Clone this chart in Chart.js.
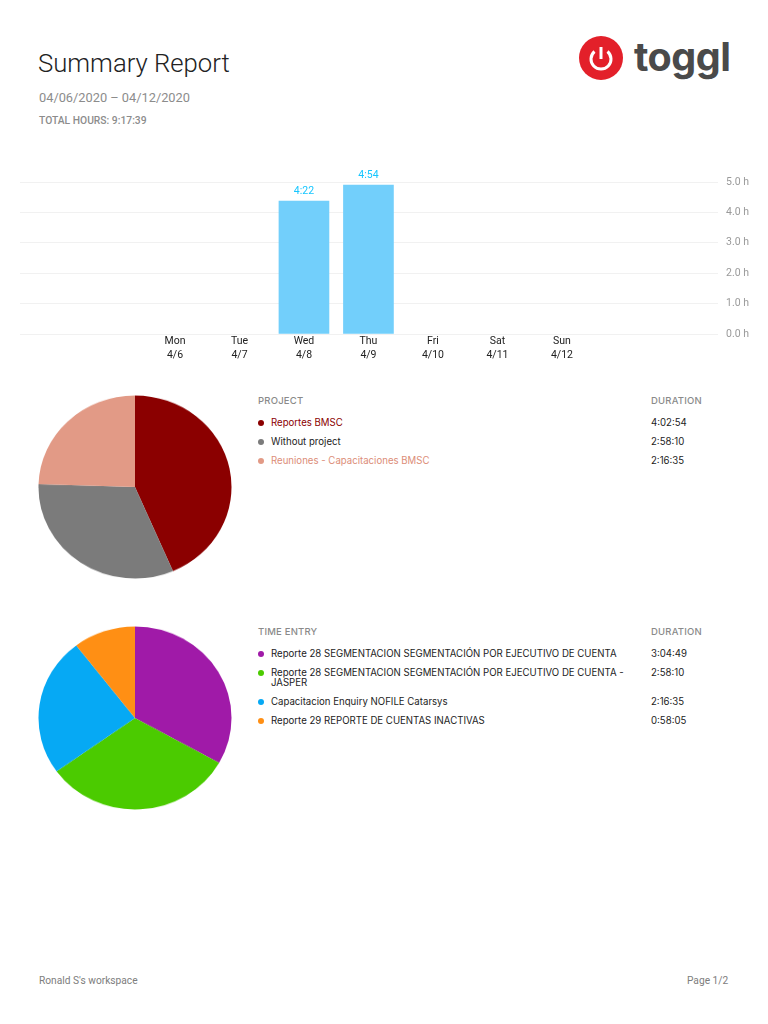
<!DOCTYPE html>
<html>
<head>
<meta charset="utf-8">
<title>Summary Report</title>
<script src="https://cdn.jsdelivr.net/npm/chart.js@4"></script>
<style>
    html, body { margin: 0; padding: 0; background: #fff; }
    body { position: relative; width: 768px; height: 1024px; overflow: hidden; font-family: Roboto, sans-serif; }
    .abs { position: absolute; white-space: nowrap; }
    canvas { position: absolute; }
    .pie { transform: scaleY(.948); }
    .head { font: 500 9.5px Inter, sans-serif; color: #8a8a8a; letter-spacing: .2px; }
    .row { font: 400 9.63px Inter, sans-serif; color: #1c1c1c; line-height: 10px; }
    .dot { position: absolute; width: 6px; height: 6px; border-radius: 50%; }
</style>
</head>
<body>
    <div class="abs" style="left:38px;top:48px;font-size:25.7px;font-weight:300;color:#222">Summary Report</div>
    <div class="abs" style="left:39px;top:90px;font-size:12.8px;color:#8c8c8c">04/06/2020 – 04/12/2020</div>
    <div class="abs" style="left:39px;top:114px;font-size:10.3px;font-weight:500;color:#8c8c8c">TOTAL HOURS: 9:17:39</div>

    <svg class="abs" style="left:579px;top:36px" width="44" height="44" viewBox="0 0 44 44">
        <circle cx="22" cy="22" r="22" fill="#e3202a"/>
        <path d="M15.5 15.5 A10 10 0 1 0 28.5 15.5" fill="none" stroke="#fff" stroke-width="3"/>
        <line x1="22" y1="11" x2="22" y2="23" stroke="#fff" stroke-width="3"/>
    </svg>
    <div class="abs" style="left:634px;top:33px;font:700 39.5px Inter,sans-serif;color:#4a4a4a;letter-spacing:-.5px">toggl</div>

    <canvas id="barChart" width="768" height="230" style="left:0;top:140px"></canvas>
    <canvas id="projectPie" class="pie" width="200" height="200" style="left:35px;top:386.5px"></canvas>
    <canvas id="entryPie" class="pie" width="200" height="200" style="left:35px;top:617.5px"></canvas>

    <div id="projectTable"></div>
    <div id="entryTable"></div>

    <div class="abs" style="left:39px;top:975px;font-size:10.2px;color:#7d7d7d">Ronald S's workspace</div>
    <div class="abs" style="left:687px;top:975px;font-size:10.2px;color:#7d7d7d">Page 1/2</div>

<script>
// Dados do gráfico de barras
const dayNames = ['Mon', 'Tue', 'Wed', 'Thu', 'Fri', 'Sat', 'Sun'];
const dayDates = ['4/6', '4/7', '4/8', '4/9', '4/10', '4/11', '4/12'];
const dayHours = [0, 0, 4.37, 4.9, 0, 0, 0];
const dayLabels = ['', '', '4:22', '4:54', '', '', ''];

// Dados das pizzas (segundos)
const projectNames = ['Reportes BMSC', 'Without project', 'Reuniones - Capacitaciones BMSC'];
const projectSeconds = [14574, 10690, 8195];
const projectDurations = ['4:02:54', '2:58:10', '2:16:35'];
const projectColors = ['#8b0000', '#7b7b7b', '#e29a86'];
const projectTextColors = ['#8b0000', '#1c1c1c', '#dc8d78'];

const entryNames = [
    'Reporte 28 SEGMENTACION SEGMENTACIÓN POR EJECUTIVO DE CUENTA',
    'Reporte 28 SEGMENTACION SEGMENTACIÓN POR EJECUTIVO DE CUENTA -<br>JASPER',
    'Capacitacion Enquiry NOFILE Catarsys',
    'Reporte 29 REPORTE DE CUENTAS INACTIVAS'
];
const entrySeconds = [11089, 10690, 8195, 3485];
const entryDurations = ['3:04:49', '2:58:10', '2:16:35', '0:58:05'];
const entryColors = ['#a01aa8', '#4bcb00', '#06a9f4', '#ff8f14'];

// Rótulos acima das barras
const barValueLabels = {
    id: 'barValueLabels',
    afterDatasetsDraw(chart) {
        const ctx = chart.ctx;
        ctx.save();
        ctx.font = '10.5px Roboto';
        ctx.fillStyle = '#17c6ff';
        ctx.textAlign = 'center';
        chart.getDatasetMeta(0).data.forEach((bar, i) => {
            if (dayLabels[i]) ctx.fillText(dayLabels[i], bar.x, bar.y - 7);
        });
        ctx.restore();
    }
};

new Chart(document.getElementById('barChart'), {
    type: 'bar',
    data: {
        datasets: [{
            data: dayHours.map((h, i) => ({ x: i, y: h })),
            // dias sem horas não desenham nada
            backgroundColor: c => c.raw.y > 0 ? '#72cffb' : 'transparent',
            barThickness: 50
        }]
    },
    plugins: [barValueLabels],
    options: {
        responsive: false,
        animation: false,
        layout: { padding: { left: 20, top: 42 } },
        plugins: { legend: { display: false }, tooltip: { enabled: false } },
        scales: {
            x: {
                type: 'linear',
                offset: false,
                min: -2.403,
                max: 8.42,
                grid: { display: false, drawTicks: false },
                border: { display: false },
                afterBuildTicks(scale) {
                    scale.ticks = dayNames.map((d, i) => ({ value: i }));
                },
                afterFit(scale) { scale.height = 36; },
                ticks: {
                    autoSkip: false,
                    maxRotation: 0,
                    padding: 0,
                    color: '#222',
                    font: { family: 'Roboto', size: 10.5, lineHeight: 1.33 },
                    callback: value => [dayNames[value], dayDates[value]]
                }
            },
            y: {
                position: 'right',
                min: 0,
                max: 5,
                grid: { color: '#f1f1f1', drawTicks: false },
                border: { display: false },
                afterFit(scale) { scale.width = 50; },
                ticks: {
                    stepSize: 1,
                    padding: 8,
                    color: '#9a9a9a',
                    font: { family: 'Roboto', size: 10.5 },
                    callback: value => value.toFixed(1) + ' h'
                }
            }
        }
    }
});

function desenharPizza(id, values, colors) {
    new Chart(document.getElementById(id), {
        type: 'pie',
        data: { datasets: [{ data: values, backgroundColor: colors, borderWidth: 0 }] },
        options: {
            responsive: false,
            animation: false,
            radius: 96.5,
            plugins: { legend: { display: false }, tooltip: { enabled: false } }
        }
    });
}
desenharPizza('projectPie', projectSeconds, projectColors);
desenharPizza('entryPie', entrySeconds, entryColors);

// Tabelas ao lado das pizzas
function renderizarTabela(id, title, top, rowTops, names, durations, colors, textColors) {
    let html = `<div class="abs head" style="left:258px;top:${top}px">${title}</div>`;
    html += `<div class="abs head" style="left:651px;top:${top}px">DURATION</div>`;
    names.forEach((name, i) => {
        const y = rowTops[i];
        const cor = textColors ? textColors[i] : '#1c1c1c';
        html += `<div class="dot" style="left:258px;top:${y + 2}px;background:${colors[i]}"></div>`;
        html += `<div class="abs row" style="left:271px;top:${y}px;color:${cor}">${name}</div>`;
        html += `<div class="abs row" style="left:651px;top:${y}px">${durations[i]}</div>`;
    });
    document.getElementById(id).innerHTML = html;
}
renderizarTabela('projectTable', 'PROJECT', 395, [418, 437, 456], projectNames, projectDurations, projectColors, projectTextColors);
renderizarTabela('entryTable', 'TIME ENTRY', 626, [649, 668, 697, 716], entryNames, entryDurations, entryColors, null);
</script>
</body>
</html>
